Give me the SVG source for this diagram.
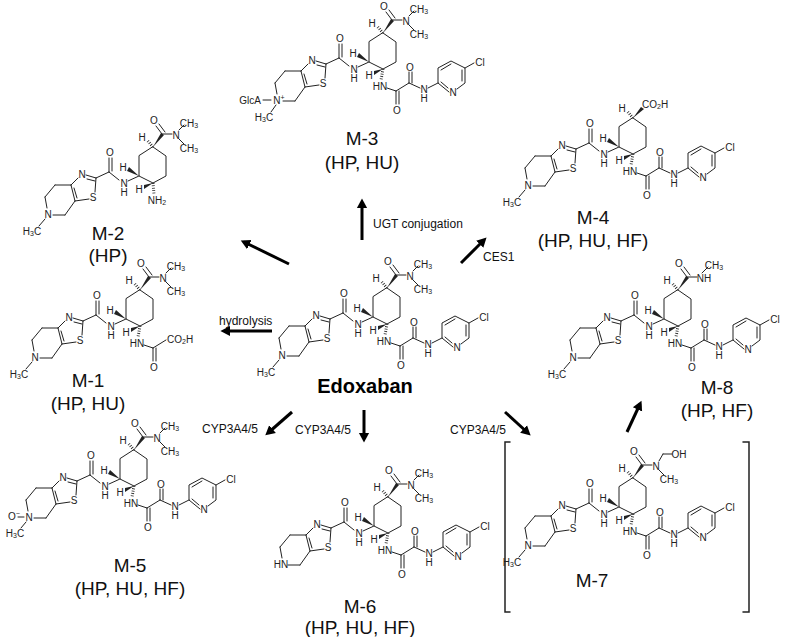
<svg xmlns="http://www.w3.org/2000/svg" xmlns:xlink="http://www.w3.org/1999/xlink" width="785" height="637" viewBox="0 0 785 637">
<style>
.b{stroke:#222;stroke-width:1;fill:none;stroke-linecap:round}
.h{stroke:#222;stroke-width:3;stroke-dasharray:0.8 1.6;fill:none}
.w{fill:#222;stroke:none}
.at{font-family:"Liberation Sans",Arial,sans-serif;font-size:10px;fill:#222;text-anchor:middle;dominant-baseline:central}
.sb{font-size:7px}
.lb{font-family:"Liberation Sans",Arial,sans-serif;font-size:19px;fill:#111;text-anchor:middle}
.rx{font-family:"Liberation Sans",Arial,sans-serif;font-size:12px;fill:#111}
.ar{stroke:#000;stroke-width:3;fill:none;marker-end:url(#hd)}
</style>
<defs>
<marker id="hd" markerWidth="4" markerHeight="4" refX="2" refY="2" orient="auto" markerUnits="strokeWidth"><path d="M0,0.3 L3.2,2 L0,3.7 Z" fill="#000"/></marker>
<g id="core">
<polygon class="b" points="0,0 13,9 13,29 0,36 -14,29 -14,9"/>
<line class="h" x1="0" y1="0" x2="-6" y2="-7"/>
<text class="at" x="-11" y="-10">H</text>
<polygon class="w" points="-14,29 -24,20 -26,24"/>
<text class="at" x="-30" y="20">H</text>
<line class="b" x1="-14" y1="29" x2="-25" y2="34"/>
<text class="at" x="-29" y="36">N</text>
<text class="at" x="-29" y="45">H</text>
<line class="b" x1="-34" y1="33" x2="-44" y2="25"/>
<line class="b" x1="-44" y1="25" x2="-44" y2="11"/>
<line class="b" x1="-41" y1="24" x2="-41" y2="11"/>
<text class="at" x="-43" y="5">O</text>
<line class="b" x1="-44" y1="25" x2="-57" y2="31"/>
<line class="b" x1="-57" y1="31" x2="-67" y2="28"/>
<line class="b" x1="-58" y1="34" x2="-66" y2="32"/>
<text class="at" x="-71" y="27">N</text>
<line class="b" x1="-75" y1="31" x2="-82" y2="38"/>
<line class="b" x1="-82" y1="38" x2="-78" y2="54"/>
<line class="b" x1="-79" y1="41" x2="-76" y2="51"/>
<line class="b" x1="-78" y1="54" x2="-64" y2="52"/>
<text class="at" x="-60" y="50">S</text>
<line class="b" x1="-58" y1="45" x2="-57" y2="31"/>
<line class="b" x1="-82" y1="38" x2="-98" y2="38"/>
<line class="b" x1="-98" y1="38" x2="-108" y2="50"/>
<line class="b" x1="-108" y1="50" x2="-106" y2="61"/>
<line class="b" x1="-100" y1="68" x2="-88" y2="68"/>
<line class="b" x1="-88" y1="68" x2="-78" y2="54"/>
</g>
<g id="me"><text class="at" x="-105" y="67">N</text><line class="b" x1="-108" y1="72" x2="-114" y2="79"/><text class="at" x="-121" y="84">H<tspan class="sb" dy="2">3</tspan><tspan dy="-2">C</tspan></text></g>
<g id="nme2">
<polygon class="w" points="0,0 8,-14 11,-12"/>
<line class="b" x1="9" y1="-13" x2="3" y2="-21"/>
<line class="b" x1="12" y1="-15" x2="6" y2="-23"/>
<text class="at" x="1" y="-27">O</text>
<line class="b" x1="9" y1="-13" x2="19" y2="-13"/>
<text class="at" x="23" y="-12">N</text>
</g>
<g id="ox">
<polygon class="w" points="0,36 -9,38 -9,42"/>
<text class="at" x="-14" y="42">H</text>
<line class="h" x1="0" y1="36" x2="-2" y2="47"/>
<text class="at" x="-3" y="53">HN</text>
<line class="b" x1="4" y1="55" x2="13" y2="58"/>
<line class="b" x1="13" y1="58" x2="13" y2="71"/>
<line class="b" x1="16" y1="58" x2="16" y2="71"/>
<text class="at" x="14" y="77">O</text>
</g>
<g id="pyr">
<line class="b" x1="13" y1="58" x2="26" y2="50"/>
<line class="b" x1="26" y1="50" x2="26" y2="39"/>
<line class="b" x1="29" y1="50" x2="29" y2="39"/>
<text class="at" x="27" y="34">O</text>
<line class="b" x1="26" y1="50" x2="37" y2="55"/>
<text class="at" x="41" y="56">N</text>
<text class="at" x="41" y="65">H</text>
<line class="b" x1="45" y1="55" x2="55" y2="50"/>
<polyline class="b" points="66,59 55,50 55,35 68,28 82,35 82,50 74,56"/>
<line class="b" x1="58" y1="37" x2="68" y2="31"/>
<line class="b" x1="79" y1="37" x2="79" y2="48"/>
<line class="b" x1="58" y1="49" x2="65" y2="55"/>
<text class="at" x="70" y="59">N</text>
<line class="b" x1="82" y1="35" x2="91" y2="30"/>
<text class="at" x="97" y="29">Cl</text>
</g>
<g id="dm"><line class="b" x1="26" y1="-17" x2="31" y2="-22"/><text class="at" x="36" y="-24">CH<tspan class="sb" dy="2">3</tspan></text><line class="b" x1="26" y1="-8" x2="31" y2="-3"/><text class="at" x="36" y="1">CH<tspan class="sb" dy="2">3</tspan></text></g>
</defs>

<g id="edoxaban">
<use xlink:href="#core" x="387" y="288"/><use xlink:href="#me" x="387" y="288"/><use xlink:href="#nme2" x="387" y="288"/><use xlink:href="#dm" x="387" y="288"/><use xlink:href="#ox" x="387" y="288"/><use xlink:href="#pyr" x="387" y="288"/>
<text x="365" y="393" style="font-family:'Liberation Sans',Arial,sans-serif;font-size:20px;font-weight:bold;text-anchor:middle">Edoxaban</text>
</g>

<g id="m3">
<use xlink:href="#core" x="383" y="33"/><use xlink:href="#nme2" x="383" y="33"/><use xlink:href="#dm" x="383" y="33"/><use xlink:href="#ox" x="383" y="33"/><use xlink:href="#pyr" x="383" y="33"/>
<g transform="translate(383,33)"><text class="at" x="-104" y="67">N<tspan class="sb" dy="-3">+</tspan></text><line class="b" x1="-112" y1="67" x2="-120" y2="67"/><text class="at" x="-122" y="67" style="text-anchor:end">GlcA</text><line class="b" x1="-107" y1="72" x2="-112" y2="79"/><text class="at" x="-119" y="84">H<tspan class="sb" dy="2">3</tspan><tspan dy="-2">C</tspan></text></g>
<text class="lb" x="362" y="145">M-3</text><text class="lb" x="362" y="169">(HP, HU)</text>
</g>

<g id="m2">
<use xlink:href="#core" x="153" y="147"/><use xlink:href="#me" x="153" y="147"/><use xlink:href="#nme2" x="153" y="147"/><use xlink:href="#dm" x="153" y="147"/>
<g transform="translate(153,147)"><polygon class="w" points="0,36 -9,38 -9,42"/><text class="at" x="-14" y="42">H</text><line class="h" x1="0" y1="36" x2="1" y2="47"/><text class="at" x="4" y="53">NH<tspan class="sb" dy="2">2</tspan></text></g>
<text class="lb" x="108" y="240">M-2</text><text class="lb" x="108" y="262">(HP)</text>
</g>

<g id="m1">
<use xlink:href="#core" x="140" y="290"/><use xlink:href="#me" x="140" y="290"/><use xlink:href="#nme2" x="140" y="290"/><use xlink:href="#dm" x="140" y="290"/><use xlink:href="#ox" x="140" y="290"/>
<g transform="translate(140,290)"><line class="b" x1="13" y1="58" x2="26" y2="50"/><text class="at" x="27" y="49" style="text-anchor:start">CO<tspan class="sb" dy="2">2</tspan><tspan dy="-2">H</tspan></text></g>
<text class="lb" x="88" y="387">M-1</text><text class="lb" x="88" y="410">(HP, HU)</text>
</g>

<g id="m4">
<use xlink:href="#core" x="633" y="118"/><use xlink:href="#me" x="633" y="118"/><use xlink:href="#ox" x="633" y="118"/><use xlink:href="#pyr" x="633" y="118"/>
<g transform="translate(633,118)"><polygon class="w" points="0,0 8,-11 11,-9"/><text class="at" x="9" y="-14" style="text-anchor:start">CO<tspan class="sb" dy="2">2</tspan><tspan dy="-2">H</tspan></text></g>
<text class="lb" x="593" y="224">M-4</text><text class="lb" x="593" y="247">(HP, HU, HF)</text>
</g>

<g id="m8">
<use xlink:href="#core" x="678" y="290"/><use xlink:href="#me" x="678" y="290"/><use xlink:href="#ox" x="678" y="290"/><use xlink:href="#pyr" x="678" y="290"/>
<g transform="translate(678,290)"><polygon class="w" points="0,0 8,-14 11,-12"/><line class="b" x1="9" y1="-13" x2="3" y2="-21"/><line class="b" x1="12" y1="-15" x2="6" y2="-23"/><text class="at" x="1" y="-27">O</text><line class="b" x1="9" y1="-13" x2="19" y2="-13"/><text class="at" x="26" y="-12">NH</text><line class="b" x1="24" y1="-17" x2="30" y2="-23"/><text class="at" x="36" y="-25">CH<tspan class="sb" dy="2">3</tspan></text></g>
<text class="lb" x="717" y="394">M-8</text><text class="lb" x="717" y="417">(HP, HF)</text>
</g>

<g id="m5">
<use xlink:href="#core" x="134" y="450"/><use xlink:href="#nme2" x="134" y="450"/><use xlink:href="#dm" x="134" y="450"/><use xlink:href="#ox" x="134" y="450"/><use xlink:href="#pyr" x="134" y="450"/>
<g transform="translate(134,450)"><text class="at" x="-105" y="67">N</text><line class="b" x1="-110" y1="67" x2="-116" y2="67"/><text class="at" x="-120" y="66">O<tspan class="sb" dy="-3">−</tspan></text><line class="b" x1="-108" y1="72" x2="-113" y2="78"/><text class="at" x="-119" y="83">H<tspan class="sb" dy="2">3</tspan><tspan dy="-2">C</tspan></text></g>
<text class="lb" x="130" y="572">M-5</text><text class="lb" x="130" y="595">(HP, HU, HF)</text>
</g>

<g id="m6">
<use xlink:href="#core" x="388" y="497"/><use xlink:href="#nme2" x="388" y="497"/><use xlink:href="#dm" x="388" y="497"/><use xlink:href="#ox" x="388" y="497"/><use xlink:href="#pyr" x="388" y="497"/>
<g transform="translate(388,497)"><text class="at" x="-107" y="67">HN</text></g>
<text class="lb" x="360" y="613">M-6</text><text class="lb" x="360" y="634">(HP, HU, HF)</text>
</g>

<g id="m7">
<use xlink:href="#core" x="633" y="478"/><use xlink:href="#me" x="633" y="478"/><use xlink:href="#nme2" x="633" y="478"/><use xlink:href="#ox" x="633" y="478"/><use xlink:href="#pyr" x="633" y="478"/>
<g transform="translate(633,478)"><line class="b" x1="26" y1="-17" x2="30" y2="-24"/><line class="b" x1="30" y1="-24" x2="39" y2="-24"/><text class="at" x="46" y="-24">OH</text><line class="b" x1="26" y1="-8" x2="31" y2="-3"/><text class="at" x="36" y="1">CH<tspan class="sb" dy="2">3</tspan></text></g>
<polyline class="b" style="stroke-width:1.5" points="510,442 505,442 505,612 510,612"/>
<polyline class="b" style="stroke-width:1.5" points="743,442 749,442 749,612 743,612"/>
<text class="lb" x="592" y="587">M-7</text>
</g>

<g id="connectors">
<line class="ar" x1="362" y1="240" x2="362" y2="202"/>
<line class="ar" x1="461" y1="263" x2="484" y2="240"/>
<line class="ar" x1="289" y1="264" x2="244" y2="242"/>
<line class="ar" x1="272" y1="331" x2="224" y2="331"/>
<line class="ar" x1="292" y1="412" x2="268" y2="433"/>
<line class="ar" x1="364" y1="410" x2="364" y2="439"/>
<line class="ar" x1="505" y1="412" x2="528" y2="433"/>
<line class="ar" x1="627" y1="432" x2="640" y2="404"/>
<text class="rx" x="373" y="228">UGT  conjugation</text>
<text class="rx" x="483" y="261">CES1</text>
<text class="rx" x="219" y="325">hydrolysis</text>
<text class="rx" x="202" y="433">CYP3A4/5</text>
<text class="rx" x="295" y="434">CYP3A4/5</text>
<text class="rx" x="450" y="434">CYP3A4/5</text>
</g>
</svg>
